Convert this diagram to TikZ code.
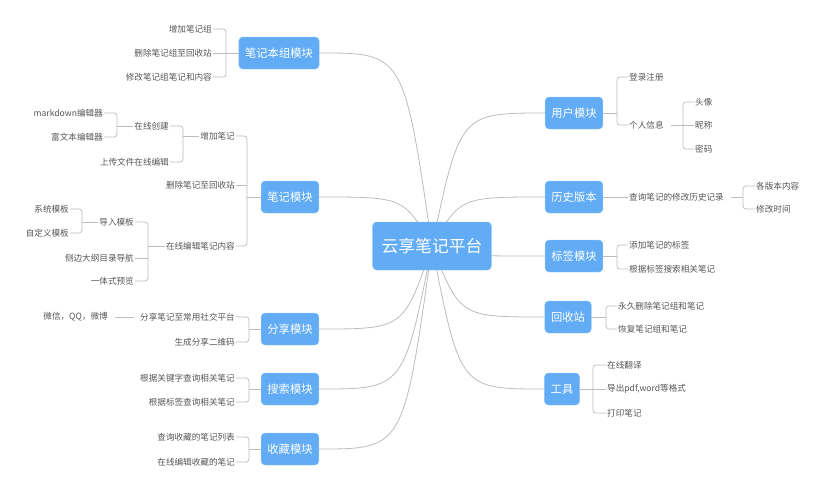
\documentclass[tikz,border=0pt]{standalone}
\usepackage{fontspec}
\setmainfont{Noto Sans CJK SC}
\usepackage{tikz}
\usetikzlibrary{positioning, calc, backgrounds}
\definecolor{boxsky}{RGB}{98,172,245}
\definecolor{boxedge}{RGB}{140,196,250}
\definecolor{linegray}{RGB}{188,188,188}
\definecolor{leafgray}{RGB}{85,85,85}
\tikzset{
  rootbox/.style={rectangle,rounded corners=4pt,fill=boxsky,draw=boxedge,text=white,
    inner xsep=9pt,minimum height=48pt,font=\fontsize{16.8}{18}\selectfont},
  modbox/.style={rectangle,rounded corners=4pt,fill=boxsky,draw=boxedge,text=white,
    inner xsep=6.3pt,minimum height=32pt,font=\fontsize{11.3}{13}\selectfont},
  leafL/.style={anchor=east,inner sep=1pt,text=leafgray,font=\fontsize{8.6}{10}\selectfont},
  leafR/.style={anchor=west,inner sep=1pt,text=leafgray,font=\fontsize{8.6}{10}\selectfont},
  branch/.style={draw=linegray,line width=0.8pt},
  link/.style={draw=linegray,line width=0.7pt},
  bracket/.style={link,rounded corners=3pt}
}
\begin{document}
\begin{tikzpicture}[x=1pt,y=-1pt]
  \useasboundingbox (0,0) rectangle (826,491);

  % centre
  \node[rootbox] (root) at (432,246) {云享笔记平台};

  % modules, left
  \node[modbox] (nbz) at (279,53) {笔记本组模块};
  \node[modbox] (bj)  at (290,197) {笔记模块};
  \node[modbox] (fx)  at (290,329) {分享模块};
  \node[modbox] (ss)  at (290,389) {搜索模块};
  \node[modbox] (sc)  at (290,449) {收藏模块};

  % modules, right
  \node[modbox] (yh) at (574,113) {用户模块};
  \node[modbox] (ls) at (574,197) {历史版本};
  \node[modbox] (bq) at (574,256) {标签模块};
  \node[modbox] (hs) at (568,317) {回收站};
  \node[modbox] (gj) at (562,389) {工具};

  % branches from the centre, behind the boxes
  \coordinate (cNbz) at ($(root.center)!0.25!(nbz.east)$);
  \coordinate (cBj)  at ($(root.center)!0.25!(bj.east)$);
  \coordinate (cFx)  at ($(root.center)!0.25!(fx.east)$);
  \coordinate (cSs)  at ($(root.center)!0.25!(ss.east)$);
  \coordinate (cSc)  at ($(root.center)!0.25!(sc.east)$);
  \coordinate (cYh)  at ($(root.center)!0.25!(yh.west)$);
  \coordinate (cLs)  at ($(root.center)!0.25!(ls.west)$);
  \coordinate (cBq)  at ($(root.center)!0.25!(bq.west)$);
  \coordinate (cHs)  at ($(root.center)!0.25!(hs.west)$);
  \coordinate (cGj)  at ($(root.center)!0.25!(gj.west)$);
  \begin{pgfonlayer}{background}
    \draw[branch] (root.center) .. controls (cNbz |- nbz.east) .. (nbz.east);
    \draw[branch] (root.center) .. controls (cBj |- bj.east) .. (bj.east);
    \draw[branch] (root.center) .. controls (cFx |- fx.east) .. (fx.east);
    \draw[branch] (root.center) .. controls (cSs |- ss.east) .. (ss.east);
    \draw[branch] (root.center) .. controls (cSc |- sc.east) .. (sc.east);
    \draw[branch] (root.center) .. controls (cYh |- yh.west) .. (yh.west);
    \draw[branch] (root.center) .. controls (cLs |- ls.west) .. (ls.west);
    \draw[branch] (root.center) .. controls (cBq |- bq.west) .. (bq.west);
    \draw[branch] (root.center) .. controls (cHs |- hs.west) .. (hs.west);
    \draw[branch] (root.center) .. controls (cGj |- gj.west) .. (gj.west);
  \end{pgfonlayer}

  % 笔记本组模块
  \node[leafL] (nbz1) at (213,29) {增加笔记组};
  \node[leafL] (nbz2) at (213,53) {删除笔记组至回收站};
  \node[leafL] (nbz3) at (213,77) {修改笔记组笔记和内容};
  \coordinate (nbzB) at (226,53);
  \draw[link] (nbz.west) -- (nbzB);
  \draw[bracket] (nbz1.east) -| (nbzB) |- (nbz3.east);
  \draw[link] (nbz2.east) -- (nbz2.east -| nbzB);

  % 笔记模块
  \node[leafL] (bj1) at (236,136) {增加笔记};
  \node[leafL] (bj2) at (236,185) {删除笔记至回收站};
  \node[leafL] (bj3) at (236,246) {在线编辑笔记内容};
  \coordinate (bjB) at (247,197);
  \draw[link] (bj.west) -- (bjB);
  \draw[bracket] (bj1.east) -| (bjB) |- (bj3.east);
  \draw[link] (bj2.east) -- (bj2.east -| bjB);

  \node[leafL] (bj11) at (170,126) {在线创建};
  \node[leafL] (bj12) at (170,162) {上传文件在线编辑};
  \coordinate (bj1B) at (183,136);
  \draw[link] (bj1.west) -- (bj1B);
  \draw[bracket] (bj11.east) -| (bj1B) |- (bj12.east);

  \node[leafL] (bj111) at (104,113) {markdown编辑器};
  \node[leafL] (bj112) at (104,137) {富文本编辑器};
  \coordinate (bj11B) at (117,126);
  \draw[link] (bj11.west) -- (bj11B);
  \draw[bracket] (bj111.east) -| (bj11B) |- (bj112.east);

  \node[leafL] (bj31) at (135,222) {导入模板};
  \node[leafL] (bj32) at (135,258) {侧边大纲目录导航};
  \node[leafL] (bj33) at (135,281) {一体式预览};
  \coordinate (bj3B) at (148,246);
  \draw[link] (bj3.west) -- (bj3B);
  \draw[bracket] (bj31.east) -| (bj3B) |- (bj33.east);
  \draw[link] (bj32.east) -- (bj32.east -| bj3B);

  \node[leafL] (bj311) at (70,209) {系统模板};
  \node[leafL] (bj312) at (70,233) {自定义模板};
  \coordinate (bj31B) at (82,222);
  \draw[link] (bj31.west) -- (bj31B);
  \draw[bracket] (bj311.east) -| (bj31B) |- (bj312.east);

  % 分享模块
  \node[leafL] (fx1) at (236,317) {分享笔记至常用社交平台};
  \node[leafL] (fx2) at (236,342) {生成分享二维码};
  \coordinate (fxB) at (249,329);
  \draw[link] (fx.west) -- (fxB);
  \draw[bracket] (fx1.east) -| (fxB) |- (fx2.east);
  \node[leafL] (fx11) at (109,317) {微信，QQ，微博};
  \draw[link,shorten <=6pt,shorten >=5pt] (fx11.east) -- (fx1.west);

  % 搜索模块
  \node[leafL] (ss1) at (236,378) {根据关键字查询相关笔记};
  \node[leafL] (ss2) at (236,402) {根据标签查询相关笔记};
  \coordinate (ssB) at (249,389);
  \draw[link] (ss.west) -- (ssB);
  \draw[bracket] (ss1.east) -| (ssB) |- (ss2.east);

  % 收藏模块
  \node[leafL] (sc1) at (236,437) {查询收藏的笔记列表};
  \node[leafL] (sc2) at (236,462) {在线编辑收藏的笔记};
  \coordinate (scB) at (249,449);
  \draw[link] (sc.west) -- (scB);
  \draw[bracket] (sc1.east) -| (scB) |- (sc2.east);

  % 用户模块
  \node[leafR] (yh1) at (628,77) {登录注册};
  \node[leafR] (yh2) at (628,125) {个人信息};
  \coordinate (yhB) at (617,113);
  \draw[link] (yh.east) -- (yhB);
  \draw[bracket] (yh1.west) -| (yhB) |- (yh2.west);

  \node[leafR] (yh21) at (694,102) {头像};
  \node[leafR] (yh22) at (694,125) {昵称};
  \node[leafR] (yh23) at (694,149) {密码};
  \coordinate (yh2B) at (683,125);
  \draw[link] ([xshift=6pt]yh2.east) -- (yh2B);
  \draw[bracket] (yh21.west) -| (yh2B) |- (yh23.west);
  \draw[link] (yh22.west) -- (yh22.west -| yh2B);

  % 历史版本
  \node[leafR] (ls1) at (628,197) {查询笔记的修改历史记录};
  \draw[link] (ls.east) -- (ls1.west);
  \node[leafR] (ls11) at (755,186) {各版本内容};
  \node[leafR] (ls12) at (755,209) {修改时间};
  \coordinate (ls1B) at (743,197);
  \draw[link] ([xshift=6pt]ls1.east) -- (ls1B);
  \draw[bracket] (ls11.west) -| (ls1B) |- (ls12.west);

  % 标签模块
  \node[leafR] (bq1) at (628,245) {添加笔记的标签};
  \node[leafR] (bq2) at (628,269) {根据标签搜索相关笔记};
  \coordinate (bqB) at (617,256);
  \draw[link] (bq.east) -- (bqB);
  \draw[bracket] (bq1.west) -| (bqB) |- (bq2.west);

  % 回收站
  \node[leafR] (hs1) at (617,306) {永久删除笔记组和笔记};
  \node[leafR] (hs2) at (617,329) {恢复笔记组和笔记};
  \coordinate (hsB) at (606,317);
  \draw[link] (hs.east) -- (hsB);
  \draw[bracket] (hs1.west) -| (hsB) |- (hs2.west);

  % 工具
  \node[leafR] (gj1) at (606,365) {在线翻译};
  \node[leafR] (gj2) at (606,389) {导出pdf,word等格式};
  \node[leafR] (gj3) at (606,413) {打印笔记};
  \coordinate (gjB) at (593,389);
  \draw[link] (gj.east) -- (gjB);
  \draw[bracket] (gj1.west) -| (gjB) |- (gj3.west);
  \draw[link] (gj2.west) -- (gj2.west -| gjB);
\end{tikzpicture}
\end{document}
